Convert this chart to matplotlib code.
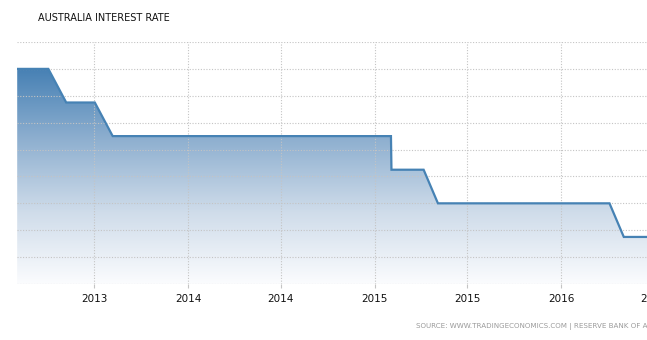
import numpy as np
import pandas as pd
import matplotlib
matplotlib.use("Agg")
import matplotlib.pyplot as plt
import matplotlib.dates as mdates
from matplotlib.colors import LinearSegmentedColormap

# Australia cash rate (%)
dates = ['2013-01-31', '2013-04-02', '2013-05-07', '2013-07-02', '2013-08-06',
         '2015-02-02', '2015-02-03', '2015-04-07', '2015-05-05',
         '2016-04-05', '2016-05-03', '2016-07-05']
rates = [3.00, 3.00, 2.75, 2.75, 2.50,
         2.50, 2.25, 2.25, 2.00,
         2.00, 1.75, 1.75]

tick_dates = ['2013-07-01', '2014-01-01', '2014-07-01', '2015-01-01',
              '2015-07-01', '2016-01-01', '2016-07-01']
tick_labels = ['2013', '2014', '2014', '2015', '2015', '2016', '2016']

y_ticks = [1.4, 1.6, 1.8, 2.0, 2.2, 2.4, 2.6, 2.8, 3.0, 3.2]

LINE = '#4682b4'
GRID = '#c4c4c4'

x = mdates.date2num(pd.to_datetime(dates))
y = np.array(rates)
xt = mdates.date2num(pd.to_datetime(tick_dates))

W, H = 647, 340
fig = plt.figure(figsize=(W / 100, H / 100), dpi=100)

# plot area in pixels; right edge runs past the figure (chart is cut off)
px_left, px_right, px_top, px_bot = 16.5, 700, 42, 284
ax = fig.add_axes([px_left / W, (H - px_bot) / H,
                   (px_right - px_left) / W, (px_bot - px_top) / H])

# 0.5106 px per day, 1 Jul 2013 sits at x = 94.3 px
ref = mdates.date2num(pd.Timestamp('2013-07-01'))
ax.set_xlim(ref + (px_left - 94.3) / 0.5106, ref + (px_right - 94.3) / 0.5106)
ax.set_ylim(1.4, 3.2)

# gradient fill under the line
cmap = LinearSegmentedColormap.from_list('fade', ['#fbfcfe', '#cfdcea', '#8fb0d0', '#4680b4'])
grad = np.linspace(0, 1, 256).reshape(-1, 1)
img = ax.imshow(grad, cmap=cmap, aspect='auto', origin='lower',
                extent=[x[0], x[-1], 1.4, y.max()], zorder=1)
poly = ax.fill_between(x, y, 1.4, color='none', lw=0)
clip = poly.get_paths()[0]
img.set_clip_path(clip, transform=ax.transData)

ax.plot(x, y, color=LINE, lw=1.6, zorder=3, solid_joinstyle='miter')

ax.set_xticks(xt)
ax.set_xticklabels(tick_labels)
ax.set_yticks(y_ticks)
ax.set_yticklabels([])
ax.grid(True, color=GRID, ls=(0, (1, 1.5)), lw=0.8, zorder=2)
ax.set_axisbelow(False)
for s in ax.spines.values():
    s.set_visible(False)
ax.tick_params(axis='y', length=0)
ax.tick_params(axis='x', length=3, width=0.8, color=GRID, pad=4,
               labelsize=7.5, labelcolor='#111111')

fig.text(38 / W, 1 - 18 / H, 'AUSTRALIA INTEREST RATE', fontsize=7,
         color='#111111', va='center', ha='left')
fig.text(416 / W, 1 - 326 / H,
         'SOURCE: WWW.TRADINGECONOMICS.COM | RESERVE BANK OF AUSTRALIA',
         fontsize=5.1, color='#9a9a9a', va='center', ha='left')

fig.savefig('out.png', dpi=100)
